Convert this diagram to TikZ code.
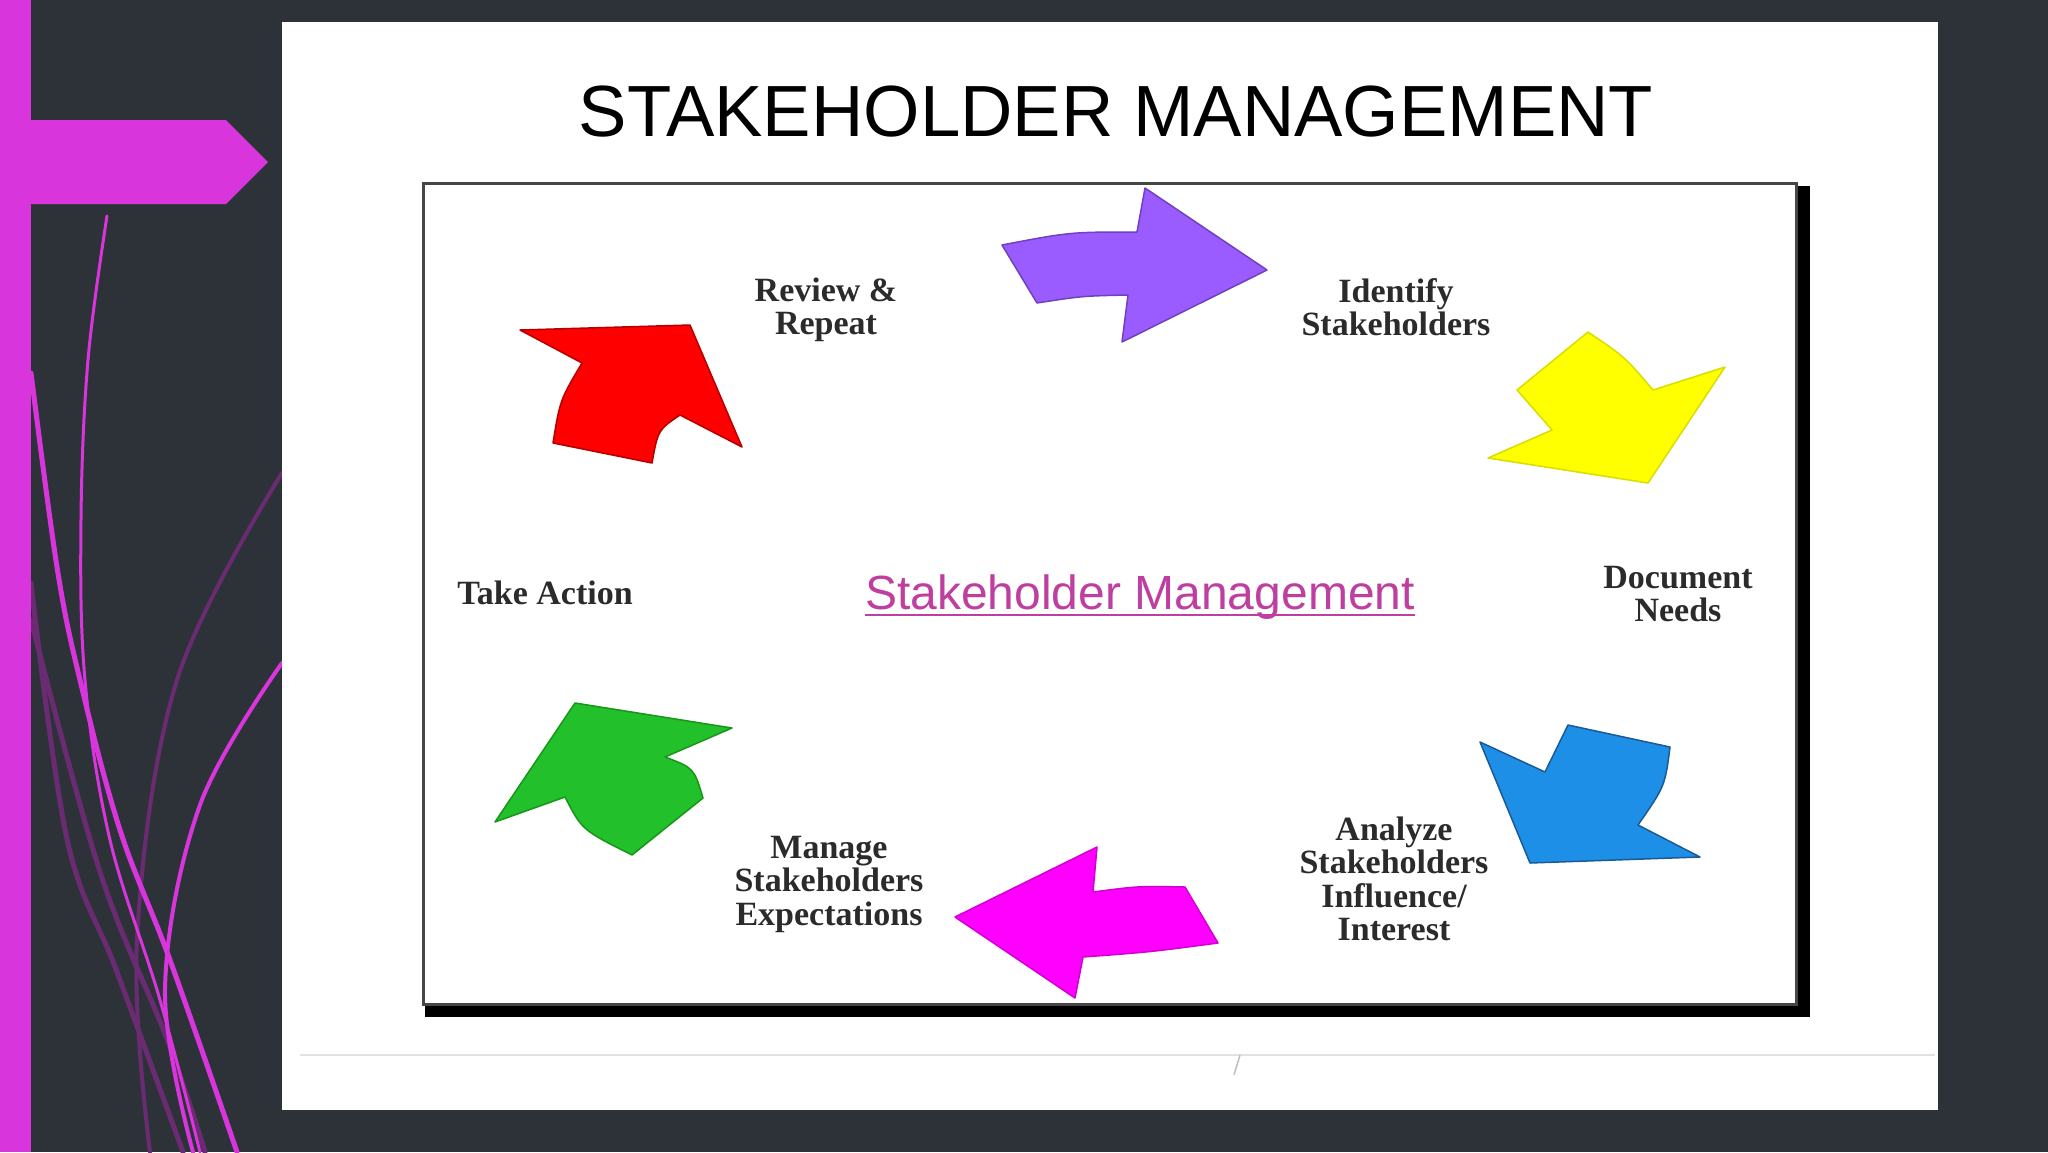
\documentclass[tikz,border=0pt]{standalone}
\usepackage{fontspec}
\setmainfont{Liberation Serif}
\newfontfamily\sansf{Liberation Sans}
\definecolor{bgdark}{HTML}{2D3239}
\definecolor{mag}{HTML}{D935DC}
\definecolor{dpurple}{HTML}{6A2B72}
\definecolor{labelc}{HTML}{2B2B2B}
\definecolor{smc}{HTML}{BF3FA0}
\definecolor{apurple}{HTML}{9B5CFF}
\definecolor{ayellow}{HTML}{FFFF00}
\definecolor{ablue}{HTML}{1E8FE6}
\definecolor{amag}{HTML}{FF00FF}
\definecolor{agreen}{HTML}{22C02A}
\definecolor{ared}{HTML}{FF0000}
\tikzset{
  lbl/.style={font=\bfseries\fontsize{34}{33.5}\selectfont, text=labelc, align=center, inner sep=0pt},
  arrowshape/.style={line width=1.5pt, line join=round},
  decor/.style={line cap=round, fill=none},
}
\begin{document}
\begin{tikzpicture}[x=1pt,y=-1pt]
\useasboundingbox (0,0) rectangle (2048,1152);
% background
\fill[bgdark] (0,0) rectangle (2048,1152);
% decorative curves
\draw[decor, dpurple, line width=5pt] plot[smooth, tension=0.6] coordinates {(31,583) (67,839) (117,972) (183,1152)};
\draw[decor, dpurple, line width=5pt] plot[smooth, tension=0.6] coordinates {(31,620) (100,872) (167,1039) (205,1152)};
\draw[decor, dpurple, line width=4pt] plot[smooth, tension=0.6] coordinates {(282,473) (177,680) (137,939) (150,1152)};
\draw[decor, mag, line width=3pt] plot[smooth, tension=0.6] coordinates {(107,216) (88,360) (81,520) (85,680) (110,840) (160,1000) (200,1152)};
\draw[decor, mag, line width=5pt] plot[smooth, tension=0.6] coordinates {(31,373) (57,567) (80,680) (120,830) (170,960) (237,1152)};
\draw[decor, mag, line width=4pt] plot[smooth, tension=0.6] coordinates {(282,663) (200,805) (165,989) (193,1152)};
% left bar and pointer
\fill[mag] (0,0) rectangle (31,1152);
\fill[mag] (30,120) -- (226,120) -- (268,162) -- (226,204) -- (30,204) -- cycle;
% white panel
\fill[white] (282,22) rectangle (1938,1110);
% title
\node[font=\sansf\fontsize{72.5}{80}\selectfont, text=black, anchor=base, inner sep=0pt] (title) at (1116,136) {STAKEHOLDER MANAGEMENT};
% frame with shadow
\fill[black] (425,1004) rectangle (1810,1017);
\fill[black] (1796,186) rectangle (1810,1017);
\draw[line width=3pt, draw={rgb,255:red,70;green,70;blue,70}] (423,183) rectangle (1796,1004);
% faint rule below
\draw[line width=2pt, draw={rgb,255:red,225;green,225;blue,225}] (300,1055) -- (1935,1055);
\draw[line width=1.5pt, draw={rgb,255:red,190;green,190;blue,190}] (1240,1055) -- (1234,1075);
% arrows
\filldraw[arrowshape, fill=apurple, draw={rgb,255:red,112;green,64;blue,192}]
  (1002,245) .. controls (1070,232) .. (1137,232) -- (1145,188) -- (1267,270) -- (1122,342) -- (1128,295)
  .. controls (1082,296) .. (1037,303) -- cycle;
\filldraw[arrowshape, fill=ayellow, draw={rgb,255:red,215;green,222;blue,0}]
  (1588,332) .. controls (1625,357) .. (1653,390) -- (1725,367) -- (1648,483) -- (1488,458) -- (1552,430)
  -- (1517,390) -- cycle;
\filldraw[arrowshape, fill=ablue, draw={rgb,255:red,26;green,90;blue,150}]
  (1480,742) -- (1545,772) -- (1568,725) -- (1670,747) .. controls (1665,786) .. (1638,825) -- (1700,857)
  -- (1530,863) -- cycle;
\filldraw[arrowshape, fill=amag, draw={rgb,255:red,210;green,0;blue,210}]
  (955,917) -- (1097,847) -- (1093,892) .. controls (1139,886) .. (1185,887) -- (1218,943)
  .. controls (1150,952) .. (1083,957) -- (1075,998) -- cycle;
\filldraw[arrowshape, fill=agreen, draw={rgb,255:red,24;green,150;blue,24}]
  (575,703) -- (732,728) -- (665,757) .. controls (694,768) .. (703,798) -- (632,855)
  .. controls (582,830) .. (565,797) -- (495,822) -- cycle;
\filldraw[arrowshape, fill=ared, draw={rgb,255:red,180;green,0;blue,0}]
  (520,330) -- (690,325) -- (742,447) -- (680,415) .. controls (658,430) .. (652,463) -- (553,443)
  .. controls (560,400) .. (582,363) -- cycle;
% labels
\node[lbl] (review) at (826,310) {Review \&\\Repeat};
\node[lbl] (identify) at (1396,307) {Identify\\Stakeholders};
\node[lbl] (document) at (1678,594) {Document\\Needs};
\node[lbl] (analyze) at (1394,879) {Analyze\\Stakeholders\\Influence/\\Interest};
\node[lbl] (manage) at (829,884) {Manage\\Stakeholders\\Expectations};
\node[lbl] (action) at (545,593) {Take Action};
\node[font=\sansf\fontsize{48}{52}\selectfont, text=smc, anchor=base, inner sep=0pt] (sm) at (1140,609) {Stakeholder Management};
\draw[smc, line width=2.5pt] ([yshift=-6pt]sm.base west) -- ([yshift=-6pt]sm.base east);
\end{tikzpicture}
\end{document}
